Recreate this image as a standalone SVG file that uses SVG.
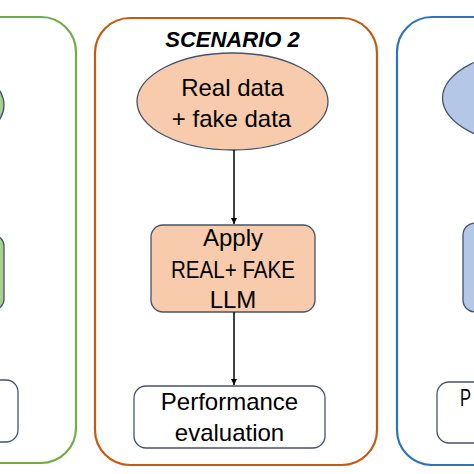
<svg xmlns="http://www.w3.org/2000/svg" width="474" height="474" viewBox="0 0 474 474">
<defs>
<style>
.panel{fill:none;stroke-width:2.2}
.node{stroke:#44546a;stroke-width:1.3}
.t{font-family:"Liberation Sans",Arial,sans-serif;font-size:24px;fill:#000;text-anchor:middle}
.title{font-family:"Liberation Sans",Arial,sans-serif;font-size:22px;font-weight:bold;font-style:italic;fill:#000;text-anchor:middle}
.conn{stroke:#000;stroke-width:1.5;fill:none}
</style>
<marker id="ah" viewBox="0 0 10 10" refX="10" refY="5" markerWidth="6" markerHeight="6" markerUnits="userSpaceOnUse" orient="auto">
<path d="M0,0 L10,5 L0,10 z" fill="#000"/>
</marker>
</defs>
<rect width="474" height="474" fill="#fff"/>

<g id="scenario1">
<rect class="panel" x="-207" y="17" width="283" height="446" rx="35" stroke="#70ad47"/>
<ellipse id="s1-data" class="node" cx="-91.5" cy="105" rx="95.5" ry="48.5" fill="#a9d18e"/>
<rect id="s1-apply" class="node" x="-160" y="235" width="164" height="75" rx="11" fill="#a9d18e"/>
<rect id="s1-eval" class="node" x="-173" y="380" width="191" height="62" rx="12" fill="#fff"/>
</g>

<g id="scenario2">
<rect class="panel" x="95" y="18" width="282" height="447" rx="35" stroke="#c55a11"/>
<text class="title" x="232.5" y="47">SCENARIO 2</text>
</g>

<g id="s2-data">
<ellipse class="node" cx="232.5" cy="101.5" rx="95.5" ry="48.5" fill="#f8cbad"/>
<text class="t" x="232.5" y="96">Real data</text>
<text class="t" x="231.5" y="127">+ fake data</text>
</g>

<g id="s2-apply">
<rect class="node" x="151" y="225" width="164" height="87" rx="12" fill="#f8cbad"/>
<text class="t" x="233" y="246">Apply</text>
<text class="t" x="233" y="278" textLength="124" lengthAdjust="spacingAndGlyphs">REAL+ FAKE</text>
<text class="t" x="233" y="308">LLM</text>
</g>

<g id="s2-eval">
<rect class="node" x="134" y="386" width="191" height="62" rx="12" fill="#fff"/>
<text class="t" x="229.5" y="410">Performance</text>
<text class="t" x="229.5" y="441">evaluation</text>
</g>

<g id="scenario3">
<rect class="panel" x="397" y="17" width="283" height="448" rx="35" stroke="#2e75b6"/>
<ellipse id="s3-data" class="node" cx="538" cy="98" rx="95.5" ry="48" fill="#b4c7e7"/>
<rect id="s3-apply" class="node" x="463" y="223" width="164" height="89" rx="12" fill="#b4c7e7"/>
<g id="s3-eval">
<rect class="node" x="437" y="382" width="191" height="61" rx="12" fill="#fff"/>
<text class="t" x="460" y="406" style="text-anchor:start" textLength="11" lengthAdjust="spacingAndGlyphs">P</text>
</g>
</g>

<g id="connectors">
<line class="conn" x1="234" y1="150" x2="234" y2="224" marker-end="url(#ah)"/>
<line class="conn" x1="234" y1="312" x2="234" y2="385" marker-end="url(#ah)"/>
</g>
</svg>
